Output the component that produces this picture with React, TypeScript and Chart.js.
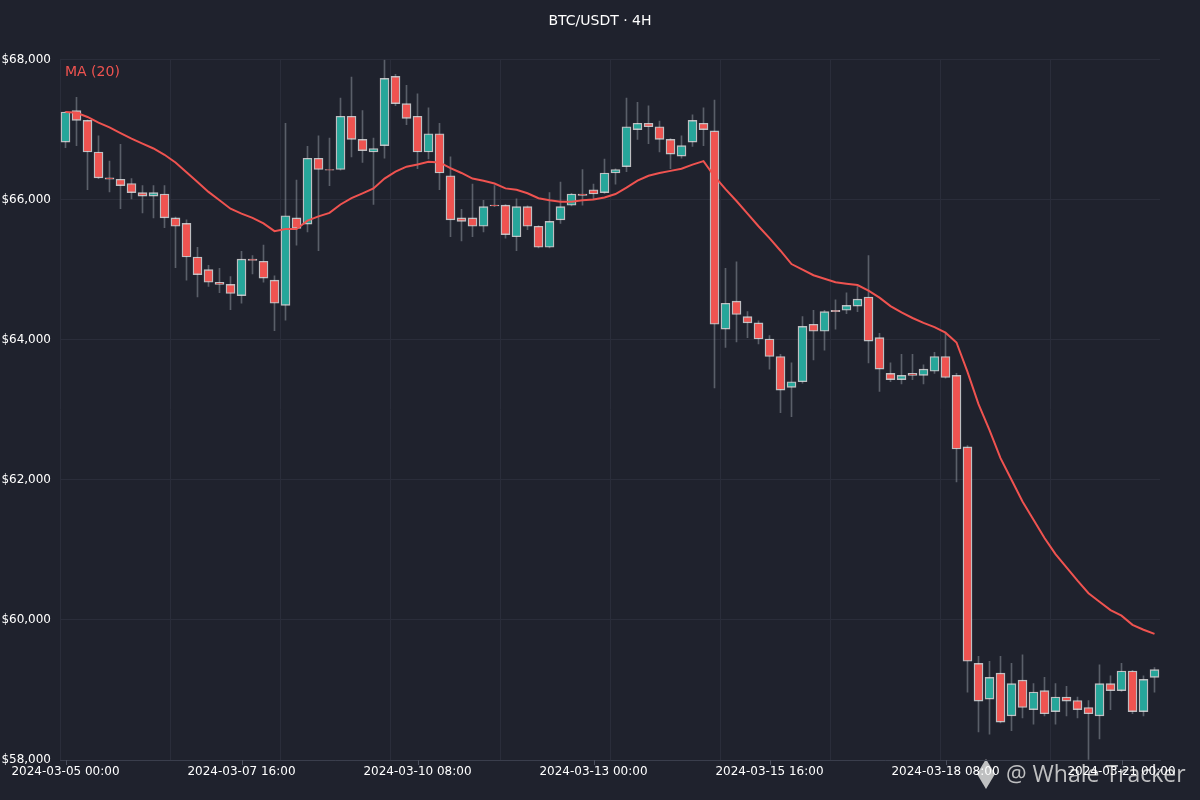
import React, { useEffect, useRef } from "react";
import { Chart, registerables } from "chart.js";

Chart.register(...registerables);

const TITLE = "BTC/USDT · 4H";
const LEGEND_LABEL = "MA (20)";
const WATERMARK = "@ Whale Tracker";

const TICK_LABELS = [
  "2024-03-05 00:00",
  "2024-03-07 16:00",
  "2024-03-10 08:00",
  "2024-03-13 00:00",
  "2024-03-15 16:00",
  "2024-03-18 08:00",
  "2024-03-21 00:00",
];
const TICK_EVERY = 16;

const Y_MIN = 58000;
const Y_MAX = 68000;
const Y_STEP = 2000;

const OPEN = [
  66820, 67270, 67130, 66680, 66310, 66290, 66230, 66100, 66050, 66080,
  65740, 65660, 65180, 65000, 64820, 64790, 64630, 65150, 65120, 64850,
  64490, 65740, 65650, 66590, 66430, 66430, 67190, 66860, 66680, 66770,
  67760, 67370, 67190, 66680, 66940, 66340, 65740, 65740, 65620, 65920,
  65920, 65470, 65900, 65620, 65320, 65710, 65920, 66080, 66140, 66100,
  66380, 66470, 67000, 67090, 67040, 66860, 66620, 66820, 67090, 66980,
  64150, 64550, 64330, 64240, 64010, 63760, 63320, 63400, 64220, 64120,
  64420, 64420, 64480, 64610, 64030, 63520, 63430, 63520, 63490, 63550,
  63760, 63490, 62470, 59380, 58870, 59240, 58630, 59140, 58720, 58990,
  58690, 58900, 58850, 58750, 58630, 59090, 58990, 59270, 58690, 59180,
];
const HIGH = [
  67260, 67460, 67140, 66910, 66550, 66790, 66300, 66200, 66200, 66200,
  65750, 65710, 65320, 65060, 65020, 64900, 65260, 65200, 65350, 64910,
  67090, 66280, 66760, 66910, 66880, 67450, 67750, 67270, 66880, 67990,
  67790, 67630, 67510, 67310, 67090, 66610, 65860, 66220, 65990, 66200,
  65930, 66010, 65910, 65630, 66100, 66250, 66090, 66430, 66220, 66580,
  66440, 67450, 67390, 67340, 67120, 66870, 66910, 67210, 67310, 67420,
  65020, 65110, 64400, 64270, 64060, 63790, 63670, 64330, 64420, 64420,
  64570, 64670, 64760, 65200, 64090, 63670, 63790, 63790, 63640, 63820,
  64090, 63520, 62490, 59480, 59410, 59480, 59380, 59500, 59090, 59180,
  59090, 59050, 58900, 58850, 59360, 59200, 59380, 59280, 59200, 59320,
];
const LOW = [
  66740, 66770, 66140, 66300, 66110, 65870, 66010, 65810, 65740, 65600,
  65030, 64850, 64610, 64760, 64670, 64430, 64520, 64940, 64820, 64130,
  64280, 65350, 65540, 65270, 66200, 66420, 66610, 66530, 65930, 66590,
  67340, 67070, 66440, 66580, 66140, 65470, 65410, 65470, 65540, 65900,
  65450, 65270, 65570, 65310, 65310, 65660, 65910, 65920, 66010, 66090,
  66220, 66400, 66860, 66800, 66680, 66440, 66590, 66760, 66770, 63310,
  63890, 63970, 64030, 63940, 63580, 62960, 62900, 63380, 63710, 63850,
  64150, 64370, 64400, 63670, 63260, 63400, 63370, 63430, 63370, 63520,
  63450, 61970, 58970, 58400, 58370, 58530, 58420, 58600, 58510, 58630,
  58510, 58630, 58600, 58010, 58300, 58720, 58980, 58660, 58630, 58970,
];
const CLOSE = [
  67250, 67130, 66680, 66310, 66290, 66200, 66100, 66050, 66100, 65740,
  65620, 65180, 64930, 64820, 64790, 64660, 65150, 65130, 64880, 64520,
  65770, 65590, 66590, 66430, 66420, 67190, 66860, 66700, 66730, 67730,
  67370, 67160, 66680, 66940, 66380, 65710, 65690, 65620, 65900, 65910,
  65500, 65900, 65620, 65320, 65690, 65900, 66080, 66060, 66080, 66380,
  66430, 67040, 67090, 67040, 66860, 66650, 66770, 67130, 67000, 64220,
  64520, 64360, 64240, 64010, 63760, 63280, 63400, 64190, 64120, 64400,
  64400, 64490, 64580, 63980, 63580, 63430, 63490, 63490, 63580, 63760,
  63460, 62440, 59410, 58840, 59180, 58540, 59090, 58750, 58970, 58660,
  58900, 58840, 58720, 58660, 59090, 58990, 59270, 58690, 59150, 59290,
];
const MA = [
  67250, 67240, 67180, 67100, 67030, 66950, 66870, 66800, 66730, 66640,
  66530, 66390, 66250, 66110, 65990, 65870, 65800, 65740, 65660, 65550,
  65580, 65580, 65700, 65760, 65810, 65930, 66020, 66090, 66160, 66300,
  66400, 66470, 66500, 66540, 66530, 66450, 66380, 66300, 66270, 66230,
  66160, 66140, 66090, 66020, 65990, 65970, 65970, 65990, 66000, 66030,
  66080, 66170, 66270, 66340, 66380, 66410, 66440, 66500, 66550, 66330,
  66150, 65980, 65800, 65620, 65450, 65270, 65080, 65000, 64920, 64870,
  64820, 64800, 64780, 64700, 64600, 64480, 64390, 64310, 64240, 64180,
  64100, 63960, 63540, 63080, 62710, 62310, 62000, 61690, 61430, 61170,
  60940, 60750, 60560, 60380, 60260, 60140, 60060, 59930, 59860, 59800,
];

const BG = "#1f222d";
const GRID = "#2a2d3a";
const UP = "#26a69a";
const DOWN = "#ef5350";
const BODY_BORDER = "rgba(230,230,230,0.8)";
const WICK = "rgba(150,155,165,0.5)";
const FONT = "'DejaVu Sans', sans-serif";

export default function App() {
  const canvasRef = useRef<HTMLCanvasElement | null>(null);

  useEffect(() => {
    document.body.style.margin = "0";
    document.body.style.background = BG;
    const canvas = canvasRef.current;
    if (!canvas) return;

    const labels = OPEN.map((_, i) => String(i));
    const colors = OPEN.map((o, i) => (CLOSE[i] >= o ? UP : DOWN));

    const decor = {
      id: "decor",
      beforeDraw(chart: any) {
        const ctx = chart.ctx;
        ctx.save();
        ctx.fillStyle = BG;
        ctx.fillRect(0, 0, chart.width, chart.height);
        // watermark
        ctx.fillStyle = "rgba(220,220,220,0.85)";
        ctx.beginPath();
        ctx.moveTo(986, 759);
        ctx.lineTo(995, 774);
        ctx.lineTo(986, 789);
        ctx.lineTo(977, 774);
        ctx.closePath();
        ctx.fill();
        ctx.font = "23px 'Open Sans', sans-serif";
        ctx.textAlign = "left";
        ctx.textBaseline = "alphabetic";
        ctx.fillText(WATERMARK, 1006, 782);
        ctx.restore();
      },
      afterDraw(chart: any) {
        const ctx = chart.ctx;
        const x = chart.scales.x;
        const area = chart.chartArea;
        ctx.save();
        ctx.strokeStyle = "#4a4e5c";
        ctx.lineWidth = 1;
        for (let i = 0; i < OPEN.length; i += TICK_EVERY) {
          const px = Math.round(x.getPixelForValue(i)) + 0.5;
          ctx.beginPath();
          ctx.moveTo(px, area.bottom);
          ctx.lineTo(px, area.bottom + 5);
          ctx.stroke();
        }
        ctx.fillStyle = "#ffffff";
        ctx.font = `14px ${FONT}`;
        ctx.textAlign = "center";
        ctx.textBaseline = "middle";
        ctx.fillText(TITLE, 600, 21);
        ctx.fillStyle = DOWN;
        ctx.font = `14px ${FONT}`;
        ctx.textAlign = "left";
        ctx.fillText(LEGEND_LABEL, 65, 72);
        ctx.restore();
      },
    };

    const chart = new Chart(canvas, {
      type: "bar",
      data: {
        labels,
        datasets: [
          {
            type: "line",
            label: LEGEND_LABEL,
            data: MA,
            borderColor: DOWN,
            borderWidth: 2,
            pointRadius: 0,
            tension: 0,
            fill: false,
            order: 0,
          } as any,
          {
            label: "body",
            data: OPEN.map((o, i) => [o, CLOSE[i]]),
            backgroundColor: colors,
            borderColor: BODY_BORDER,
            borderWidth: 1.4,
            borderSkipped: false,
            barThickness: 9,
            grouped: false,
            order: 1,
          } as any,
          {
            label: "wick",
            data: LOW.map((l, i) => [l, HIGH[i]]),
            backgroundColor: WICK,
            borderWidth: 0,
            barThickness: 1,
            grouped: false,
            order: 2,
          } as any,
        ],
      },
      options: {
        animation: false,
        responsive: false,
        events: [],
        layout: { padding: { top: 59.5, right: 40, left: 0, bottom: 0 } },
        plugins: {
          legend: { display: false },
          title: { display: false },
          tooltip: { enabled: false },
        },
        scales: {
          x: {
            type: "category",
            offset: true,
            grid: {
              offset: true,
              drawTicks: false,
              color: (c: any) => (c.index % 10 === 0 ? GRID : "rgba(0,0,0,0)"),
              lineWidth: 1,
            },
            border: { display: true, color: "#3a3e4c", width: 1 },
            ticks: {
              autoSkip: false,
              maxRotation: 0,
              minRotation: 0,
              padding: 5,
              color: "#ffffff",
              font: { family: FONT, size: 12 },
              callback: (_v: any, index: number) =>
                index % TICK_EVERY === 0 ? TICK_LABELS[index / TICK_EVERY] : "",
            },
            afterFit: (s: any) => {
              s.height = 40;
              s.paddingLeft = 0;
              s.paddingRight = 0;
            },
          },
          y: {
            type: "linear",
            min: Y_MIN,
            max: Y_MAX,
            grid: { color: GRID, drawTicks: false, lineWidth: 1 },
            border: { display: false },
            ticks: {
              stepSize: Y_STEP,
              padding: 9,
              color: "#ffffff",
              font: { family: FONT, size: 12 },
              callback: (v: any) => "$" + Number(v).toLocaleString("en-US"),
            },
            afterFit: (s: any) => {
              s.width = 60;
              s.paddingTop = 0;
              s.paddingBottom = 0;
            },
          },
        },
      } as any,
      plugins: [decor],
    });

    return () => chart.destroy();
  }, []);

  return (
    <div style={{ width: 1200, height: 800, position: "relative", background: BG }}>
      <canvas ref={canvasRef} width={1200} height={800} style={{ display: "block", width: 1200, height: 800 }} />
    </div>
  );
}
